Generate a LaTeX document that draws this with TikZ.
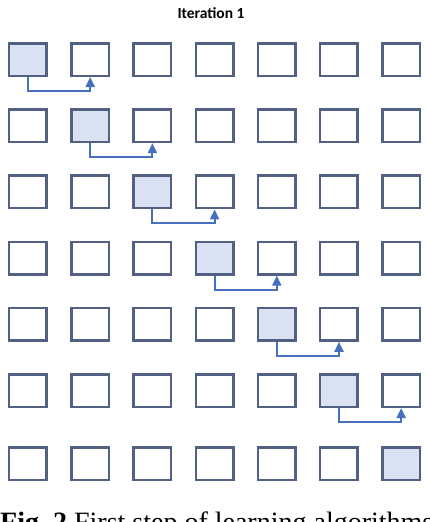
\documentclass[tikz,border=0pt]{standalone}
\usepackage{fontspec}
\setmainfont{Liberation Serif}
\newfontfamily\titlefont{Carlito}
\usepackage{tikz}
\usetikzlibrary{matrix, positioning, arrows.meta}
\definecolor{cellline}{RGB}{82,96,132}
\definecolor{cellfill}{RGB}{218,225,243}
\definecolor{steparrow}{RGB}{70,112,188}
\tikzset{
  cell/.style={draw=cellline, line width=2.5pt, minimum width=37.5pt,
               minimum height=32.5pt, inner sep=0pt, anchor=center},
  pick/.style={fill=cellfill},
  move/.style={draw=steparrow, line width=2pt,
               -{Triangle[length=10pt,width=9pt]}}
}
\begin{document}
\begin{tikzpicture}[x=1pt, y=-1pt]
\clip (0,0) rectangle (430,522);
\node[font=\titlefont\bfseries\fontsize{15.5}{18}\selectfont, anchor=base]
  (title) at (211,18) {Iteration 1};
%
\matrix (grid) [matrix of nodes, nodes in empty cells, nodes={cell},
         column sep={62.2pt,between origins},
         row sep={66.2pt,between origins},
         matrix anchor=grid-1-1.center] at (28,59.5)
{
|[pick]| & & & & & & \\
& |[pick]| & & & & & \\
& & |[pick]| & & & & \\
& & & |[pick]| & & & \\
& & & & |[pick]| & & \\
& & & & & |[pick]| & \\[7pt]
& & & & & & |[pick]| \\
};
%
\foreach \k in {1,...,6}{
  \pgfmathtruncatemacro{\n}{\k+1}
  \draw[move] (grid-\k-\k.south) -- ++(0,14) -| (grid-\k-\n.south);
}
%
\node[font=\fontsize{28}{30}\selectfont, anchor=base west, inner sep=0pt]
  (caption) at (0,531) {\textbf{Fig.~2} First step of learning algorithms};
\end{tikzpicture}
\end{document}
